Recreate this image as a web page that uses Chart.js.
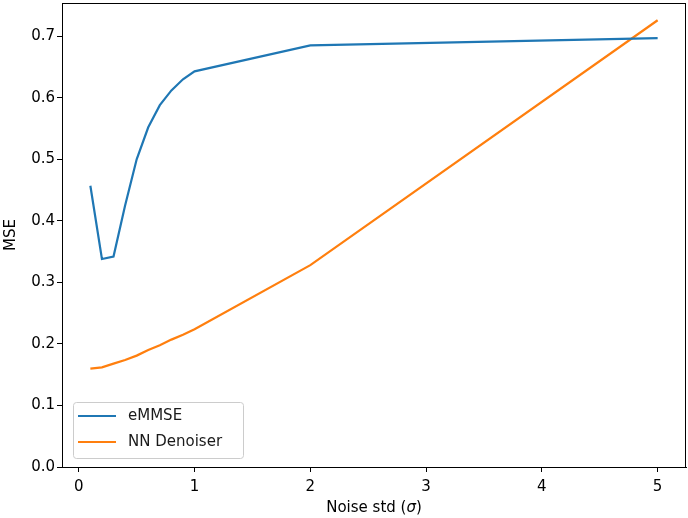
<!DOCTYPE html>
<html>
<head>
<meta charset="utf-8">
<script src="https://cdn.jsdelivr.net/npm/chart.js@4"></script>
<style>
  html, body { margin: 0; padding: 0; background: #fff; }
  #wrap { width: 688px; height: 518px; }
</style>
</head>
<body>
<div id="wrap"><canvas id="myChart" width="688" height="518"></canvas></div>
<script>
var sigmas = [0.1, 0.2, 0.3, 0.4, 0.5, 0.6, 0.7, 0.8, 0.9, 1, 2, 5];
var emmseValues = [0.457, 0.338, 0.342, 0.425, 0.500, 0.552, 0.588, 0.612, 0.630, 0.643, 0.685, 0.697];
var nnValues = [0.160, 0.162, 0.168, 0.174, 0.181, 0.190, 0.198, 0.207, 0.215, 0.224, 0.328, 0.726];
var xTicks = [0, 1, 2, 3, 4, 5];
var yTicks = [0, 0.1, 0.2, 0.3, 0.4, 0.5, 0.6, 0.7];

var FONT = "'DejaVu Sans', sans-serif";

function toPoints(ys) {
    return sigmas.map(function (x, i) { return { x: x, y: ys[i] }; });
}

// box round the plot, legend in the lower left and x title with italic sigma
var extras = {
    id: "extras",
    afterDraw: function (chart) {
        var ctx = chart.ctx;
        var a = chart.chartArea;
        ctx.save();
        ctx.strokeStyle = "#000";
        ctx.lineWidth = 1;
        ctx.strokeRect(a.left + 0.5, a.top + 0.5, a.right - a.left - 1, a.bottom - a.top);

        // legend
        var bx = a.left + 11, by = a.bottom - 65, bw = 170, bh = 56;
        ctx.fillStyle = "rgba(255,255,255,0.8)";
        ctx.strokeStyle = "#cccccc";
        ctx.beginPath();
        ctx.roundRect(bx + 0.5, by + 0.5, bw, bh, 3);
        ctx.fill();
        ctx.stroke();
        ctx.font = "15px " + FONT;
        ctx.textBaseline = "middle";
        chart.data.datasets.forEach(function (ds, i) {
            var yy = by + 14 + i * 26;
            ctx.strokeStyle = ds.borderColor;
            ctx.lineWidth = 2.2;
            ctx.beginPath();
            ctx.moveTo(bx + 5, yy);
            ctx.lineTo(bx + 43, yy);
            ctx.stroke();
            ctx.fillStyle = "#1a1a1a";
            ctx.fillText(ds.label, bx + 55, yy);
        });

        // x axis title
        var t1 = "Noise std (", t2 = "\u03c3", t3 = ")";
        ctx.font = "15px " + FONT;
        var w1 = ctx.measureText(t1).width, w3 = ctx.measureText(t3).width;
        ctx.font = "italic 15px " + FONT;
        var w2 = ctx.measureText(t2).width;
        var x0 = (a.left + a.right) / 2 - (w1 + w2 + w3) / 2;
        var ty = 508;
        ctx.fillStyle = "#000";
        ctx.textBaseline = "middle";
        ctx.textAlign = "left";
        ctx.font = "15px " + FONT;
        ctx.fillText(t1, x0, ty);
        ctx.font = "italic 15px " + FONT;
        ctx.fillText(t2, x0 + w1, ty);
        ctx.font = "15px " + FONT;
        ctx.fillText(t3, x0 + w1 + w2, ty);
        ctx.restore();
    }
};

new Chart("myChart", {
    type: "line",
    data: {
        datasets: [{
            label: "eMMSE",
            data: toPoints(emmseValues),
            borderColor: "#1f77b4",
            borderWidth: 2.2,
            pointRadius: 0,
            tension: 0,
            fill: false
        }, {
            label: "NN Denoiser",
            data: toPoints(nnValues),
            borderColor: "#ff7f0e",
            borderWidth: 2.2,
            pointRadius: 0,
            tension: 0,
            fill: false
        }]
    },
    options: {
        responsive: false,
        animation: false,
        devicePixelRatio: 1,
        layout: { padding: { top: 3, right: 2, left: 0, bottom: 0 } },
        plugins: {
            legend: { display: false },
            tooltip: { enabled: false }
        },
        scales: {
            x: {
                type: "linear",
                min: -0.145,
                max: 5.245,
                afterBuildTicks: function (s) { s.ticks = xTicks.map(function (v) { return { value: v }; }); },
                afterFit: function (s) {
                    s.height = 51;
                    s.paddingLeft = 0;
                    s.paddingRight = 0;
                },
                grid: { drawOnChartArea: false, drawTicks: true, tickLength: 5, color: "#000" },
                border: { display: true, color: "#000", width: 1 },
                ticks: {
                    color: "#000",
                    font: { family: FONT, size: 15 },
                    padding: 6,
                    maxRotation: 0,
                    callback: function (v) { return String(v); }
                }
            },
            y: {
                type: "linear",
                min: 0,
                max: 0.754,
                afterBuildTicks: function (s) { s.ticks = yTicks.map(function (v) { return { value: v }; }); },
                afterFit: function (s) {
                    s.width = 62;
                    s.paddingTop = 0;
                    s.paddingBottom = 0;
                },
                grid: { drawOnChartArea: false, drawTicks: true, tickLength: 5, color: "#000" },
                border: { display: true, color: "#000", width: 1 },
                title: {
                    display: true,
                    text: "MSE",
                    color: "#000",
                    font: { family: FONT, size: 15 },
                    padding: { top: 2, bottom: 0 }
                },
                ticks: {
                    color: "#000",
                    font: { family: FONT, size: 15 },
                    padding: 2,
                    callback: function (v) { return v.toFixed(1); }
                }
            }
        }
    },
    plugins: [extras]
});
</script>
</body>
</html>
